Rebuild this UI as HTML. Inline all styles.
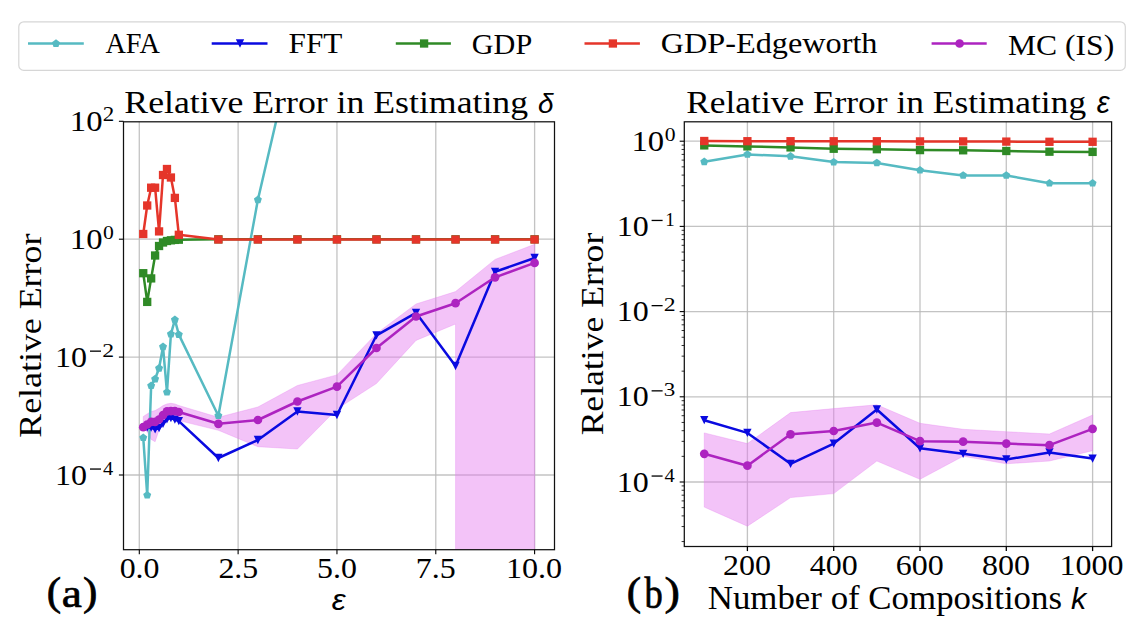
<!DOCTYPE html><html><head><meta charset="utf-8"><style>html,body{margin:0;padding:0;background:#fff;}svg{display:block;}</style></head><body><svg width="1140" height="630" viewBox="0 0 1140 630">
<rect x="0" y="0" width="1140" height="630" fill="#fff"/>
<defs>
<clipPath id="c1"><rect x="123.5" y="121.8" width="431.0" height="427.90000000000003"/></clipPath>
<clipPath id="c2"><rect x="684.3" y="121.8" width="427.29999999999995" height="424.7"/></clipPath>
</defs>
<rect x="18.8" y="21.8" width="1106.5" height="48.60000000000001" rx="5" ry="5" fill="#fff" stroke="#d6d6d6" stroke-width="1.2"/>
<path d="M28 43.5L83.8 43.5" stroke="#56bac2" stroke-width="2.4"/>
<path d="M56 39.3L59.99 42.2L58.47 46.9L53.53 46.9L52.01 42.2Z" fill="#56bac2"/>
<path d="M211.7 43.5L267.5 43.5" stroke="#0a0ae0" stroke-width="2.4"/>
<path d="M235.85 39.35L244.15 39.35L240 47.65Z" fill="#0a0ae0"/>
<path d="M395.8 43.5L450.9 43.5" stroke="#2f8a26" stroke-width="2.4"/>
<rect x="419.95" y="39.35" width="8.3" height="8.3" fill="#2f8a26"/>
<path d="M584.5 43.5L639.9 43.5" stroke="#e5352a" stroke-width="2.4"/>
<rect x="608.75" y="39.35" width="8.3" height="8.3" fill="#e5352a"/>
<path d="M931.6 43.5L986.7 43.5" stroke="#ad23c0" stroke-width="2.4"/>
<circle cx="959.6" cy="43.5" r="4.35" fill="#ad23c0"/>
<text transform="translate(105.42 53.3) scale(0.9400 1)" font-family='"Liberation Serif", serif' font-size="30.076" fill="#000">AFA</text>
<text transform="translate(288.56 53.4) scale(1.0333 1)" font-family='"Liberation Serif", serif' font-size="30.229" fill="#000">FFT</text>
<text transform="translate(471.79 53.5) scale(0.9943 1)" font-family='"Liberation Serif", serif' font-size="30.382" fill="#000">GDP</text>
<text transform="translate(660.71 53.4) scale(1.0673 1)" font-family='"Liberation Serif", serif' font-size="30.229" fill="#000">GDP-Edgeworth</text>
<text transform="translate(1007.95 54.7) scale(1.0403 1)" font-family='"Liberation Serif", serif' font-size="30.382" fill="#000">MC (IS)</text>
<path d="M139.3 121.8L139.3 549.7" stroke="#b8b8b8" stroke-width="1.3" stroke-opacity="0.85"/>
<path d="M238.12 121.8L238.12 549.7" stroke="#b8b8b8" stroke-width="1.3" stroke-opacity="0.85"/>
<path d="M336.95 121.8L336.95 549.7" stroke="#b8b8b8" stroke-width="1.3" stroke-opacity="0.85"/>
<path d="M435.78 121.8L435.78 549.7" stroke="#b8b8b8" stroke-width="1.3" stroke-opacity="0.85"/>
<path d="M534.6 121.8L534.6 549.7" stroke="#b8b8b8" stroke-width="1.3" stroke-opacity="0.85"/>
<path d="M123.5 239.2L554.5 239.2" stroke="#b8b8b8" stroke-width="1.3" stroke-opacity="0.85"/>
<path d="M123.5 357.1L554.5 357.1" stroke="#b8b8b8" stroke-width="1.3" stroke-opacity="0.85"/>
<path d="M123.5 475L554.5 475" stroke="#b8b8b8" stroke-width="1.3" stroke-opacity="0.85"/>
<g clip-path="url(#c1)"><path d="M143.25 416.5L147.21 413.9L151.16 411.5L155.11 410.6L159.06 408.3L163.02 405.6L166.97 403.9L170.92 403.3L174.88 403.9L178.83 405.5L218.36 417.3L257.89 407L297.42 385.5L336.95 374.9L376.48 333.5L416.01 304L455.54 291.6L495.07 259.4L534.6 244.3L534.6 1000000L495.07 1000000L455.54 324L416.01 340.4L376.48 383.5L336.95 409L297.42 449L257.89 446.7L218.36 430.3L178.83 420.6L174.88 419L170.92 418L166.97 419L163.02 425L159.06 430L155.11 441.7L151.16 439.4L147.21 431.7L143.25 427.2Z" fill="#e47aef" fill-opacity="0.45" stroke="#e47aef" stroke-width="1" stroke-opacity="0.3"/></g>
<g clip-path="url(#c1)">
<path d="M143.25 437.7L147.21 495.2L151.16 385.7L155.11 379L159.06 368.3L163.02 346.8L166.97 392.2L170.92 334.1L174.88 319.8L178.83 334.6L218.36 415.7L257.89 199.8L297.42 29.5" fill="none" stroke="#56bac2" stroke-width="2.5" stroke-linejoin="round" stroke-linecap="butt"/>
<path d="M143.25 433.5L147.25 436.4L145.72 441.1L140.78 441.1L139.26 436.4Z" fill="#56bac2"/>
<path d="M147.21 491L151.2 493.9L149.67 498.6L144.74 498.6L143.21 493.9Z" fill="#56bac2"/>
<path d="M151.16 381.5L155.15 384.4L153.63 389.1L148.69 389.1L147.16 384.4Z" fill="#56bac2"/>
<path d="M155.11 374.8L159.11 377.7L157.58 382.4L152.64 382.4L151.12 377.7Z" fill="#56bac2"/>
<path d="M159.06 364.1L163.06 367L161.53 371.7L156.6 371.7L155.07 367Z" fill="#56bac2"/>
<path d="M163.02 342.6L167.01 345.5L165.49 350.2L160.55 350.2L159.02 345.5Z" fill="#56bac2"/>
<path d="M166.97 388L170.97 390.9L169.44 395.6L164.5 395.6L162.98 390.9Z" fill="#56bac2"/>
<path d="M170.92 329.9L174.92 332.8L173.39 337.5L168.46 337.5L166.93 332.8Z" fill="#56bac2"/>
<path d="M174.88 315.6L178.87 318.5L177.35 323.2L172.41 323.2L170.88 318.5Z" fill="#56bac2"/>
<path d="M178.83 330.4L182.82 333.3L181.3 338L176.36 338L174.84 333.3Z" fill="#56bac2"/>
<path d="M218.36 411.5L222.35 414.4L220.83 419.1L215.89 419.1L214.37 414.4Z" fill="#56bac2"/>
<path d="M257.89 195.6L261.88 198.5L260.36 203.2L255.42 203.2L253.9 198.5Z" fill="#56bac2"/>
<path d="M297.42 25.3L301.41 28.2L299.89 32.9L294.95 32.9L293.43 28.2Z" fill="#56bac2"/>
</g>
<g clip-path="url(#c1)">
<path d="M147.21 427.5L151.16 427.6L155.11 429.4L159.06 428.2L163.02 423.8L166.97 419.4L170.92 418L174.88 419.6L178.83 421.2L218.36 458L257.89 440L297.42 411.5L336.95 415L376.48 335.3L416.01 312.8L455.54 366L495.07 271.8L534.6 258" fill="none" stroke="#0a0ae0" stroke-width="2.5" stroke-linejoin="round" stroke-linecap="butt"/>
<path d="M143.06 423.35L151.36 423.35L147.21 431.65Z" fill="#0a0ae0"/>
<path d="M147.01 423.45L155.31 423.45L151.16 431.75Z" fill="#0a0ae0"/>
<path d="M150.96 425.25L159.26 425.25L155.11 433.55Z" fill="#0a0ae0"/>
<path d="M154.91 424.05L163.22 424.05L159.06 432.35Z" fill="#0a0ae0"/>
<path d="M158.87 419.65L167.17 419.65L163.02 427.95Z" fill="#0a0ae0"/>
<path d="M162.82 415.25L171.12 415.25L166.97 423.55Z" fill="#0a0ae0"/>
<path d="M166.77 413.85L175.07 413.85L170.92 422.15Z" fill="#0a0ae0"/>
<path d="M170.73 415.45L179.03 415.45L174.88 423.75Z" fill="#0a0ae0"/>
<path d="M174.68 417.05L182.98 417.05L178.83 425.35Z" fill="#0a0ae0"/>
<path d="M214.21 453.85L222.51 453.85L218.36 462.15Z" fill="#0a0ae0"/>
<path d="M253.74 435.85L262.04 435.85L257.89 444.15Z" fill="#0a0ae0"/>
<path d="M293.27 407.35L301.57 407.35L297.42 415.65Z" fill="#0a0ae0"/>
<path d="M332.8 410.85L341.1 410.85L336.95 419.15Z" fill="#0a0ae0"/>
<path d="M372.33 331.15L380.63 331.15L376.48 339.45Z" fill="#0a0ae0"/>
<path d="M411.86 308.65L420.16 308.65L416.01 316.95Z" fill="#0a0ae0"/>
<path d="M451.39 361.85L459.69 361.85L455.54 370.15Z" fill="#0a0ae0"/>
<path d="M490.92 267.65L499.22 267.65L495.07 275.95Z" fill="#0a0ae0"/>
<path d="M530.45 253.85L538.75 253.85L534.6 262.15Z" fill="#0a0ae0"/>
</g>
<g clip-path="url(#c1)">
<path d="M143.25 273.2L147.21 301.9L151.16 278.4L155.11 255.5L159.06 246L163.02 242.5L166.97 241L170.92 240.3L174.88 239.9L178.83 239.7L218.36 239.3L257.89 239.3L297.42 239.3L336.95 239.3L376.48 239.3L416.01 239.3L455.54 239.3L495.07 239.3L534.6 239.3" fill="none" stroke="#2f8a26" stroke-width="2.5" stroke-linejoin="round" stroke-linecap="butt"/>
<rect x="139.1" y="269.05" width="8.3" height="8.3" fill="#2f8a26"/>
<rect x="143.06" y="297.75" width="8.3" height="8.3" fill="#2f8a26"/>
<rect x="147.01" y="274.25" width="8.3" height="8.3" fill="#2f8a26"/>
<rect x="150.96" y="251.35" width="8.3" height="8.3" fill="#2f8a26"/>
<rect x="154.91" y="241.85" width="8.3" height="8.3" fill="#2f8a26"/>
<rect x="158.87" y="238.35" width="8.3" height="8.3" fill="#2f8a26"/>
<rect x="162.82" y="236.85" width="8.3" height="8.3" fill="#2f8a26"/>
<rect x="166.77" y="236.15" width="8.3" height="8.3" fill="#2f8a26"/>
<rect x="170.73" y="235.75" width="8.3" height="8.3" fill="#2f8a26"/>
<rect x="174.68" y="235.55" width="8.3" height="8.3" fill="#2f8a26"/>
<rect x="214.21" y="235.15" width="8.3" height="8.3" fill="#2f8a26"/>
<rect x="253.74" y="235.15" width="8.3" height="8.3" fill="#2f8a26"/>
<rect x="293.27" y="235.15" width="8.3" height="8.3" fill="#2f8a26"/>
<rect x="332.8" y="235.15" width="8.3" height="8.3" fill="#2f8a26"/>
<rect x="372.33" y="235.15" width="8.3" height="8.3" fill="#2f8a26"/>
<rect x="411.86" y="235.15" width="8.3" height="8.3" fill="#2f8a26"/>
<rect x="451.39" y="235.15" width="8.3" height="8.3" fill="#2f8a26"/>
<rect x="490.92" y="235.15" width="8.3" height="8.3" fill="#2f8a26"/>
<rect x="530.45" y="235.15" width="8.3" height="8.3" fill="#2f8a26"/>
</g>
<g clip-path="url(#c1)">
<path d="M143.25 234L147.21 205.5L151.16 187.7L155.11 187.7L159.06 231.4L163.02 175L166.97 169L170.92 177.5L174.88 197.9L178.83 234.8L218.36 239.5L257.89 239.5L297.42 239.5L336.95 239.5L376.48 239.5L416.01 239.5L455.54 239.5L495.07 239.5L534.6 239.5" fill="none" stroke="#e5352a" stroke-width="2.5" stroke-linejoin="round" stroke-linecap="butt"/>
<rect x="139.1" y="229.85" width="8.3" height="8.3" fill="#e5352a"/>
<rect x="143.06" y="201.35" width="8.3" height="8.3" fill="#e5352a"/>
<rect x="147.01" y="183.55" width="8.3" height="8.3" fill="#e5352a"/>
<rect x="150.96" y="183.55" width="8.3" height="8.3" fill="#e5352a"/>
<rect x="154.91" y="227.25" width="8.3" height="8.3" fill="#e5352a"/>
<rect x="158.87" y="170.85" width="8.3" height="8.3" fill="#e5352a"/>
<rect x="162.82" y="164.85" width="8.3" height="8.3" fill="#e5352a"/>
<rect x="166.77" y="173.35" width="8.3" height="8.3" fill="#e5352a"/>
<rect x="170.73" y="193.75" width="8.3" height="8.3" fill="#e5352a"/>
<rect x="174.68" y="230.65" width="8.3" height="8.3" fill="#e5352a"/>
<rect x="214.21" y="235.35" width="8.3" height="8.3" fill="#e5352a"/>
<rect x="253.74" y="235.35" width="8.3" height="8.3" fill="#e5352a"/>
<rect x="293.27" y="235.35" width="8.3" height="8.3" fill="#e5352a"/>
<rect x="332.8" y="235.35" width="8.3" height="8.3" fill="#e5352a"/>
<rect x="372.33" y="235.35" width="8.3" height="8.3" fill="#e5352a"/>
<rect x="411.86" y="235.35" width="8.3" height="8.3" fill="#e5352a"/>
<rect x="451.39" y="235.35" width="8.3" height="8.3" fill="#e5352a"/>
<rect x="490.92" y="235.35" width="8.3" height="8.3" fill="#e5352a"/>
<rect x="530.45" y="235.35" width="8.3" height="8.3" fill="#e5352a"/>
</g>
<g clip-path="url(#c1)">
<path d="M143.25 427.2L147.21 424.5L151.16 421.8L155.11 421.8L159.06 419.5L163.02 415.2L166.97 411.4L170.92 411.2L174.88 411.2L178.83 412L218.36 423.8L257.89 420L297.42 401.5L336.95 386.7L376.48 348L416.01 316.5L455.54 303.2L495.07 277.3L534.6 262.9" fill="none" stroke="#ad23c0" stroke-width="2.5" stroke-linejoin="round" stroke-linecap="butt"/>
<circle cx="143.25" cy="427.2" r="4.35" fill="#ad23c0"/>
<circle cx="147.21" cy="424.5" r="4.35" fill="#ad23c0"/>
<circle cx="151.16" cy="421.8" r="4.35" fill="#ad23c0"/>
<circle cx="155.11" cy="421.8" r="4.35" fill="#ad23c0"/>
<circle cx="159.06" cy="419.5" r="4.35" fill="#ad23c0"/>
<circle cx="163.02" cy="415.2" r="4.35" fill="#ad23c0"/>
<circle cx="166.97" cy="411.4" r="4.35" fill="#ad23c0"/>
<circle cx="170.92" cy="411.2" r="4.35" fill="#ad23c0"/>
<circle cx="174.88" cy="411.2" r="4.35" fill="#ad23c0"/>
<circle cx="178.83" cy="412" r="4.35" fill="#ad23c0"/>
<circle cx="218.36" cy="423.8" r="4.35" fill="#ad23c0"/>
<circle cx="257.89" cy="420" r="4.35" fill="#ad23c0"/>
<circle cx="297.42" cy="401.5" r="4.35" fill="#ad23c0"/>
<circle cx="336.95" cy="386.7" r="4.35" fill="#ad23c0"/>
<circle cx="376.48" cy="348" r="4.35" fill="#ad23c0"/>
<circle cx="416.01" cy="316.5" r="4.35" fill="#ad23c0"/>
<circle cx="455.54" cy="303.2" r="4.35" fill="#ad23c0"/>
<circle cx="495.07" cy="277.3" r="4.35" fill="#ad23c0"/>
<circle cx="534.6" cy="262.9" r="4.35" fill="#ad23c0"/>
</g>
<rect x="123.5" y="121.8" width="431.0" height="427.90000000000003" fill="none" stroke="#111" stroke-width="1.25"/>
<path d="M139.3 549.7L139.3 554.3000000000001" stroke="#000" stroke-width="1.1"/>
<path d="M238.12 549.7L238.12 554.3000000000001" stroke="#000" stroke-width="1.1"/>
<path d="M336.95 549.7L336.95 554.3000000000001" stroke="#000" stroke-width="1.1"/>
<path d="M435.78 549.7L435.78 554.3000000000001" stroke="#000" stroke-width="1.1"/>
<path d="M534.6 549.7L534.6 554.3000000000001" stroke="#000" stroke-width="1.1"/>
<path d="M118.9 121.3L123.5 121.3" stroke="#000" stroke-width="1.1"/>
<path d="M118.9 239.2L123.5 239.2" stroke="#000" stroke-width="1.1"/>
<path d="M118.9 357.1L123.5 357.1" stroke="#000" stroke-width="1.1"/>
<path d="M118.9 475L123.5 475" stroke="#000" stroke-width="1.1"/>
<path d="M747.4 121.8L747.4 546.5" stroke="#b8b8b8" stroke-width="1.3" stroke-opacity="0.85"/>
<path d="M833.7 121.8L833.7 546.5" stroke="#b8b8b8" stroke-width="1.3" stroke-opacity="0.85"/>
<path d="M920 121.8L920 546.5" stroke="#b8b8b8" stroke-width="1.3" stroke-opacity="0.85"/>
<path d="M1006.3 121.8L1006.3 546.5" stroke="#b8b8b8" stroke-width="1.3" stroke-opacity="0.85"/>
<path d="M1092.6 121.8L1092.6 546.5" stroke="#b8b8b8" stroke-width="1.3" stroke-opacity="0.85"/>
<path d="M684.3 141.2L1111.6 141.2" stroke="#b8b8b8" stroke-width="1.3" stroke-opacity="0.85"/>
<path d="M684.3 226.4L1111.6 226.4" stroke="#b8b8b8" stroke-width="1.3" stroke-opacity="0.85"/>
<path d="M684.3 311.6L1111.6 311.6" stroke="#b8b8b8" stroke-width="1.3" stroke-opacity="0.85"/>
<path d="M684.3 396.8L1111.6 396.8" stroke="#b8b8b8" stroke-width="1.3" stroke-opacity="0.85"/>
<path d="M684.3 482L1111.6 482" stroke="#b8b8b8" stroke-width="1.3" stroke-opacity="0.85"/>
<g clip-path="url(#c2)"><path d="M704.25 432.9L747.4 443.6L790.55 412.6L833.7 408.6L876.85 404.8L920 423.3L963.15 429.3L1006.3 431.7L1049.45 434L1092.6 415L1092.6 450.7L1049.45 461L1006.3 463.8L963.15 456.2L920 479.3L876.85 461L833.7 493.6L790.55 497.6L747.4 526.2L704.25 507.1Z" fill="#e47aef" fill-opacity="0.45" stroke="#e47aef" stroke-width="1" stroke-opacity="0.3"/></g>
<g clip-path="url(#c2)">
<path d="M704.25 161.8L747.4 154.4L790.55 156.3L833.7 162.1L876.85 162.9L920 170.2L963.15 175.4L1006.3 175.4L1049.45 183.2L1092.6 183.2" fill="none" stroke="#56bac2" stroke-width="2.5" stroke-linejoin="round" stroke-linecap="butt"/>
<path d="M704.25 157.6L708.24 160.5L706.72 165.2L701.78 165.2L700.26 160.5Z" fill="#56bac2"/>
<path d="M747.4 150.2L751.39 153.1L749.87 157.8L744.93 157.8L743.41 153.1Z" fill="#56bac2"/>
<path d="M790.55 152.1L794.54 155L793.02 159.7L788.08 159.7L786.56 155Z" fill="#56bac2"/>
<path d="M833.7 157.9L837.69 160.8L836.17 165.5L831.23 165.5L829.71 160.8Z" fill="#56bac2"/>
<path d="M876.85 158.7L880.84 161.6L879.32 166.3L874.38 166.3L872.86 161.6Z" fill="#56bac2"/>
<path d="M920 166L923.99 168.9L922.47 173.6L917.53 173.6L916.01 168.9Z" fill="#56bac2"/>
<path d="M963.15 171.2L967.14 174.1L965.62 178.8L960.68 178.8L959.16 174.1Z" fill="#56bac2"/>
<path d="M1006.3 171.2L1010.29 174.1L1008.77 178.8L1003.83 178.8L1002.31 174.1Z" fill="#56bac2"/>
<path d="M1049.45 179L1053.44 181.9L1051.92 186.6L1046.98 186.6L1045.46 181.9Z" fill="#56bac2"/>
<path d="M1092.6 179L1096.59 181.9L1095.07 186.6L1090.13 186.6L1088.61 181.9Z" fill="#56bac2"/>
</g>
<g clip-path="url(#c2)">
<path d="M704.25 420.2L747.4 432.9L790.55 463.8L833.7 443.6L876.85 409.5L920 448.3L963.15 453.8L1006.3 459.5L1049.45 452.4L1092.6 458.6" fill="none" stroke="#0a0ae0" stroke-width="2.5" stroke-linejoin="round" stroke-linecap="butt"/>
<path d="M700.1 416.05L708.4 416.05L704.25 424.35Z" fill="#0a0ae0"/>
<path d="M743.25 428.75L751.55 428.75L747.4 437.05Z" fill="#0a0ae0"/>
<path d="M786.4 459.65L794.7 459.65L790.55 467.95Z" fill="#0a0ae0"/>
<path d="M829.55 439.45L837.85 439.45L833.7 447.75Z" fill="#0a0ae0"/>
<path d="M872.7 405.35L881 405.35L876.85 413.65Z" fill="#0a0ae0"/>
<path d="M915.85 444.15L924.15 444.15L920 452.45Z" fill="#0a0ae0"/>
<path d="M959 449.65L967.3 449.65L963.15 457.95Z" fill="#0a0ae0"/>
<path d="M1002.15 455.35L1010.45 455.35L1006.3 463.65Z" fill="#0a0ae0"/>
<path d="M1045.3 448.25L1053.6 448.25L1049.45 456.55Z" fill="#0a0ae0"/>
<path d="M1088.45 454.45L1096.75 454.45L1092.6 462.75Z" fill="#0a0ae0"/>
</g>
<g clip-path="url(#c2)">
<path d="M704.25 145.4L747.4 146.4L790.55 147.4L833.7 148.75L876.85 149.2L920 150.1L963.15 150.3L1006.3 151L1049.45 151.7L1092.6 151.9" fill="none" stroke="#2f8a26" stroke-width="2.5" stroke-linejoin="round" stroke-linecap="butt"/>
<rect x="700.1" y="141.25" width="8.3" height="8.3" fill="#2f8a26"/>
<rect x="743.25" y="142.25" width="8.3" height="8.3" fill="#2f8a26"/>
<rect x="786.4" y="143.25" width="8.3" height="8.3" fill="#2f8a26"/>
<rect x="829.55" y="144.6" width="8.3" height="8.3" fill="#2f8a26"/>
<rect x="872.7" y="145.05" width="8.3" height="8.3" fill="#2f8a26"/>
<rect x="915.85" y="145.95" width="8.3" height="8.3" fill="#2f8a26"/>
<rect x="959" y="146.15" width="8.3" height="8.3" fill="#2f8a26"/>
<rect x="1002.15" y="146.85" width="8.3" height="8.3" fill="#2f8a26"/>
<rect x="1045.3" y="147.55" width="8.3" height="8.3" fill="#2f8a26"/>
<rect x="1088.45" y="147.75" width="8.3" height="8.3" fill="#2f8a26"/>
</g>
<g clip-path="url(#c2)">
<path d="M704.25 141L747.4 141.2L790.55 141.2L833.7 141.25L876.85 141.25L920 141.4L963.15 141.4L1006.3 141.6L1049.45 141.8L1092.6 141.8" fill="none" stroke="#e5352a" stroke-width="2.5" stroke-linejoin="round" stroke-linecap="butt"/>
<rect x="700.1" y="136.85" width="8.3" height="8.3" fill="#e5352a"/>
<rect x="743.25" y="137.05" width="8.3" height="8.3" fill="#e5352a"/>
<rect x="786.4" y="137.05" width="8.3" height="8.3" fill="#e5352a"/>
<rect x="829.55" y="137.1" width="8.3" height="8.3" fill="#e5352a"/>
<rect x="872.7" y="137.1" width="8.3" height="8.3" fill="#e5352a"/>
<rect x="915.85" y="137.25" width="8.3" height="8.3" fill="#e5352a"/>
<rect x="959" y="137.25" width="8.3" height="8.3" fill="#e5352a"/>
<rect x="1002.15" y="137.45" width="8.3" height="8.3" fill="#e5352a"/>
<rect x="1045.3" y="137.65" width="8.3" height="8.3" fill="#e5352a"/>
<rect x="1088.45" y="137.65" width="8.3" height="8.3" fill="#e5352a"/>
</g>
<g clip-path="url(#c2)">
<path d="M704.25 453.8L747.4 465.7L790.55 434.3L833.7 431L876.85 422.6L920 441.2L963.15 441.7L1006.3 443.6L1049.45 445.2L1092.6 428.8" fill="none" stroke="#ad23c0" stroke-width="2.5" stroke-linejoin="round" stroke-linecap="butt"/>
<circle cx="704.25" cy="453.8" r="4.35" fill="#ad23c0"/>
<circle cx="747.4" cy="465.7" r="4.35" fill="#ad23c0"/>
<circle cx="790.55" cy="434.3" r="4.35" fill="#ad23c0"/>
<circle cx="833.7" cy="431" r="4.35" fill="#ad23c0"/>
<circle cx="876.85" cy="422.6" r="4.35" fill="#ad23c0"/>
<circle cx="920" cy="441.2" r="4.35" fill="#ad23c0"/>
<circle cx="963.15" cy="441.7" r="4.35" fill="#ad23c0"/>
<circle cx="1006.3" cy="443.6" r="4.35" fill="#ad23c0"/>
<circle cx="1049.45" cy="445.2" r="4.35" fill="#ad23c0"/>
<circle cx="1092.6" cy="428.8" r="4.35" fill="#ad23c0"/>
</g>
<rect x="684.3" y="121.8" width="427.29999999999995" height="424.7" fill="none" stroke="#111" stroke-width="1.25"/>
<path d="M747.4 546.5L747.4 551.1" stroke="#000" stroke-width="1.3"/>
<path d="M833.7 546.5L833.7 551.1" stroke="#000" stroke-width="1.3"/>
<path d="M920 546.5L920 551.1" stroke="#000" stroke-width="1.3"/>
<path d="M1006.3 546.5L1006.3 551.1" stroke="#000" stroke-width="1.3"/>
<path d="M1092.6 546.5L1092.6 551.1" stroke="#000" stroke-width="1.3"/>
<path d="M679.6999999999999 141.2L684.3 141.2" stroke="#000" stroke-width="1.1"/>
<path d="M679.6999999999999 226.4L684.3 226.4" stroke="#000" stroke-width="1.1"/>
<path d="M679.6999999999999 311.6L684.3 311.6" stroke="#000" stroke-width="1.1"/>
<path d="M679.6999999999999 396.8L684.3 396.8" stroke="#000" stroke-width="1.1"/>
<path d="M679.6999999999999 482L684.3 482" stroke="#000" stroke-width="1.1"/>
<path d="M681.5999999999999 541.55L684.3 541.55" stroke="#000" stroke-width="0.8"/>
<path d="M681.5999999999999 526.55L684.3 526.55" stroke="#000" stroke-width="0.8"/>
<path d="M681.5999999999999 515.9L684.3 515.9" stroke="#000" stroke-width="0.8"/>
<path d="M681.5999999999999 507.65L684.3 507.65" stroke="#000" stroke-width="0.8"/>
<path d="M681.5999999999999 500.9L684.3 500.9" stroke="#000" stroke-width="0.8"/>
<path d="M681.5999999999999 495.2L684.3 495.2" stroke="#000" stroke-width="0.8"/>
<path d="M681.5999999999999 490.26L684.3 490.26" stroke="#000" stroke-width="0.8"/>
<path d="M681.5999999999999 485.9L684.3 485.9" stroke="#000" stroke-width="0.8"/>
<path d="M681.5999999999999 456.35L684.3 456.35" stroke="#000" stroke-width="0.8"/>
<path d="M681.5999999999999 441.35L684.3 441.35" stroke="#000" stroke-width="0.8"/>
<path d="M681.5999999999999 430.7L684.3 430.7" stroke="#000" stroke-width="0.8"/>
<path d="M681.5999999999999 422.45L684.3 422.45" stroke="#000" stroke-width="0.8"/>
<path d="M681.5999999999999 415.7L684.3 415.7" stroke="#000" stroke-width="0.8"/>
<path d="M681.5999999999999 410L684.3 410" stroke="#000" stroke-width="0.8"/>
<path d="M681.5999999999999 405.06L684.3 405.06" stroke="#000" stroke-width="0.8"/>
<path d="M681.5999999999999 400.7L684.3 400.7" stroke="#000" stroke-width="0.8"/>
<path d="M681.5999999999999 371.15L684.3 371.15" stroke="#000" stroke-width="0.8"/>
<path d="M681.5999999999999 356.15L684.3 356.15" stroke="#000" stroke-width="0.8"/>
<path d="M681.5999999999999 345.5L684.3 345.5" stroke="#000" stroke-width="0.8"/>
<path d="M681.5999999999999 337.25L684.3 337.25" stroke="#000" stroke-width="0.8"/>
<path d="M681.5999999999999 330.5L684.3 330.5" stroke="#000" stroke-width="0.8"/>
<path d="M681.5999999999999 324.8L684.3 324.8" stroke="#000" stroke-width="0.8"/>
<path d="M681.5999999999999 319.86L684.3 319.86" stroke="#000" stroke-width="0.8"/>
<path d="M681.5999999999999 315.5L684.3 315.5" stroke="#000" stroke-width="0.8"/>
<path d="M681.5999999999999 285.95L684.3 285.95" stroke="#000" stroke-width="0.8"/>
<path d="M681.5999999999999 270.95L684.3 270.95" stroke="#000" stroke-width="0.8"/>
<path d="M681.5999999999999 260.3L684.3 260.3" stroke="#000" stroke-width="0.8"/>
<path d="M681.5999999999999 252.05L684.3 252.05" stroke="#000" stroke-width="0.8"/>
<path d="M681.5999999999999 245.3L684.3 245.3" stroke="#000" stroke-width="0.8"/>
<path d="M681.5999999999999 239.6L684.3 239.6" stroke="#000" stroke-width="0.8"/>
<path d="M681.5999999999999 234.66L684.3 234.66" stroke="#000" stroke-width="0.8"/>
<path d="M681.5999999999999 230.3L684.3 230.3" stroke="#000" stroke-width="0.8"/>
<path d="M681.5999999999999 200.75L684.3 200.75" stroke="#000" stroke-width="0.8"/>
<path d="M681.5999999999999 185.75L684.3 185.75" stroke="#000" stroke-width="0.8"/>
<path d="M681.5999999999999 175.1L684.3 175.1" stroke="#000" stroke-width="0.8"/>
<path d="M681.5999999999999 166.85L684.3 166.85" stroke="#000" stroke-width="0.8"/>
<path d="M681.5999999999999 160.1L684.3 160.1" stroke="#000" stroke-width="0.8"/>
<path d="M681.5999999999999 154.4L684.3 154.4" stroke="#000" stroke-width="0.8"/>
<path d="M681.5999999999999 149.46L684.3 149.46" stroke="#000" stroke-width="0.8"/>
<path d="M681.5999999999999 145.1L684.3 145.1" stroke="#000" stroke-width="0.8"/>
<text transform="translate(124.33 113) scale(1.1307 1)" font-family='"Liberation Serif", serif' font-size="31.603" fill="#000">Relative Error in Estimating</text>
<text transform="translate(537.99 113.01) scale(0.9793 1)" font-family='"Liberation Sans", sans-serif' font-size="28.571" font-style="italic" fill="#000">δ</text>
<text transform="translate(686.24 112.9) scale(1.1249 1)" font-family='"Liberation Serif", serif' font-size="31.450" fill="#000">Relative Error in Estimating</text>
<text transform="translate(1096.69 112.59) scale(0.9627 1)" font-family='"Liberation Sans", sans-serif' font-size="30.502" font-style="italic" fill="#000">ε</text>
<text transform="translate(41.2 437.78) rotate(-90) scale(1.1191 1)" font-family='"Liberation Serif", serif' font-size="32.061" fill="#000">Relative Error</text>
<text transform="translate(602.6 435.37) rotate(-90) scale(1.1161 1)" font-family='"Liberation Serif", serif' font-size="31.908" fill="#000">Relative Error</text>
<text transform="translate(331.85 609.51) scale(1.0896 1)" font-family='"Liberation Sans", sans-serif' font-size="28.858" font-style="italic" fill="#000">ε</text>
<text transform="translate(707.75 608.9) scale(1.0618 1)" font-family='"Liberation Serif", serif' font-size="32.824" fill="#000">Number of Compositions</text>
<text transform="translate(1071.07 608.9) scale(1.0506 1)" font-family='"Liberation Sans", sans-serif' font-size="28.966" font-style="italic" fill="#000">k</text>
<text transform="translate(46.86 605.19) scale(1.1027 1)" font-family='"Liberation Serif", serif' font-size="39.118" fill="#000" stroke="#000" stroke-width="0.7">(</text>
<text transform="translate(61.81 607.3) scale(1.1212 1)" font-family='"Liberation Serif", serif' font-size="40.417" fill="#000" stroke="#000" stroke-width="0.7">a</text>
<text transform="translate(83 605.19) scale(1.1020 1)" font-family='"Liberation Serif", serif' font-size="39.118" fill="#000" stroke="#000" stroke-width="0.7">)</text>
<text transform="translate(626.86 605.43) scale(1.0696 1)" font-family='"Liberation Serif", serif' font-size="40.331" fill="#000" stroke="#000" stroke-width="0.7">(</text>
<text transform="translate(644.4 607.96) scale(0.8283 1)" font-family='"Liberation Serif", serif' font-size="44.113" fill="#000" stroke="#000" stroke-width="0.7">b</text>
<text transform="translate(664.4 605.43) scale(1.1459 1)" font-family='"Liberation Serif", serif' font-size="40.331" fill="#000" stroke="#000" stroke-width="0.7">)</text>
<text transform="translate(119.65 577.77) scale(1.1073 1)" font-family='"Liberation Serif", serif' font-size="28.824" fill="#000">0.0</text>
<text transform="translate(218.4 577.77) scale(1.1032 1)" font-family='"Liberation Serif", serif' font-size="28.930" fill="#000">2.5</text>
<text transform="translate(316.98 577.77) scale(1.1073 1)" font-family='"Liberation Serif", serif' font-size="28.824" fill="#000">5.0</text>
<text transform="translate(415.73 577.76) scale(1.0910 1)" font-family='"Liberation Serif", serif' font-size="29.254" fill="#000">7.5</text>
<text transform="translate(505.99 577.77) scale(1.1145 1)" font-family='"Liberation Serif", serif' font-size="28.824" fill="#000">10.0</text>
<text transform="translate(723.08 574.51) scale(1.1192 1)" font-family='"Liberation Serif", serif' font-size="28.593" fill="#000">200</text>
<text transform="translate(809.78 574.51) scale(1.1192 1)" font-family='"Liberation Serif", serif' font-size="28.593" fill="#000">400</text>
<text transform="translate(895.72 574.51) scale(1.1192 1)" font-family='"Liberation Serif", serif' font-size="28.593" fill="#000">600</text>
<text transform="translate(982.1 574.51) scale(1.1192 1)" font-family='"Liberation Serif", serif' font-size="28.593" fill="#000">800</text>
<text transform="translate(1059.6 574.51) scale(1.1192 1)" font-family='"Liberation Serif", serif' font-size="28.593" fill="#000">1000</text>
<text transform="translate(69.84 131.11) scale(1.1199 1)" font-family='"Liberation Serif", serif' font-size="29.185" fill="#000">10</text>
<text transform="translate(102.87 121.2) scale(1.1544 1)" font-family='"Liberation Serif", serif' font-size="19.925" fill="#000">2</text>
<text transform="translate(69.84 249.01) scale(1.1199 1)" font-family='"Liberation Serif", serif' font-size="29.185" fill="#000">10</text>
<text transform="translate(103.09 238.9) scale(1.1070 1)" font-family='"Liberation Serif", serif' font-size="19.556" fill="#000">0</text>
<text transform="translate(55.1 366.61) scale(1.0909 1)" font-family='"Liberation Serif", serif' font-size="29.333" fill="#000">10</text>
<rect x="90" y="350.5" width="11" height="1.3" fill="#000"/>
<text transform="translate(102.23 356.8) scale(1.2197 1)" font-family='"Liberation Serif", serif' font-size="19.472" fill="#000">2</text>
<text transform="translate(55.1 484.51) scale(1.0909 1)" font-family='"Liberation Serif", serif' font-size="29.333" fill="#000">10</text>
<rect x="90" y="468.4" width="11" height="1.3" fill="#000"/>
<text transform="translate(102.89 474.7) scale(1.0413 1)" font-family='"Liberation Serif", serif' font-size="19.620" fill="#000">4</text>
<text transform="translate(631.44 151.01) scale(1.1199 1)" font-family='"Liberation Serif", serif' font-size="29.185" fill="#000">10</text>
<text transform="translate(664.69 140.9) scale(1.1070 1)" font-family='"Liberation Serif", serif' font-size="19.556" fill="#000">0</text>
<text transform="translate(616.7 235.91) scale(1.0909 1)" font-family='"Liberation Serif", serif' font-size="29.333" fill="#000">10</text>
<rect x="651.6" y="219.8" width="11" height="1.3" fill="#000"/>
<text transform="translate(665.14 226.1) scale(0.9725 1)" font-family='"Liberation Serif", serif' font-size="19.545" fill="#000">1</text>
<text transform="translate(616.7 321.11) scale(1.0909 1)" font-family='"Liberation Serif", serif' font-size="29.333" fill="#000">10</text>
<rect x="651.6" y="305" width="11" height="1.3" fill="#000"/>
<text transform="translate(663.83 311.3) scale(1.2197 1)" font-family='"Liberation Serif", serif' font-size="19.472" fill="#000">2</text>
<text transform="translate(616.7 406.31) scale(1.0909 1)" font-family='"Liberation Serif", serif' font-size="29.333" fill="#000">10</text>
<rect x="651.6" y="390.2" width="11" height="1.3" fill="#000"/>
<text transform="translate(663.81 396.31) scale(1.2006 1)" font-family='"Liberation Serif", serif' font-size="19.182" fill="#000">3</text>
<text transform="translate(616.7 491.51) scale(1.0909 1)" font-family='"Liberation Serif", serif' font-size="29.333" fill="#000">10</text>
<rect x="651.6" y="475.4" width="11" height="1.3" fill="#000"/>
<text transform="translate(664.49 481.7) scale(1.0413 1)" font-family='"Liberation Serif", serif' font-size="19.620" fill="#000">4</text>
</svg></body></html>
